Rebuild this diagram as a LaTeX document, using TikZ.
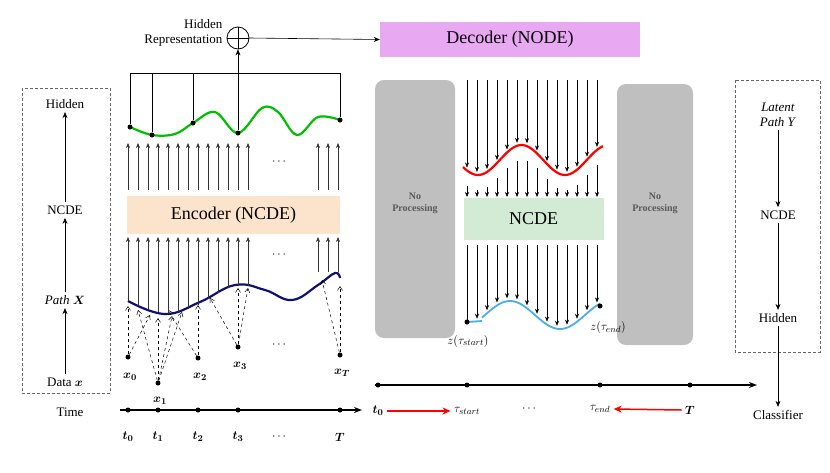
\documentclass[tikz,border=0pt]{standalone}
\usepackage{amsmath,amssymb,bm}
\usepackage{fontspec}
\setmainfont{Liberation Serif}
\usetikzlibrary{arrows.meta}
\definecolor{peach}{HTML}{FCE4CC}
\definecolor{violet}{HTML}{E8A8F2}
\definecolor{mint}{HTML}{D3EBD5}
\definecolor{navy}{HTML}{101070}
\definecolor{sky}{HTML}{4AAEEA}
\begin{document}
\begin{tikzpicture}[x=1pt,y=-1pt,
  arr/.style={-{Stealth[length=6pt,width=5pt]},line width=0.6pt},
  tarr/.style={-{Stealth[length=5pt,width=4pt]},line width=0.5pt},
  dot/.style={circle,fill,inner sep=0pt,minimum size=5pt},
  lbl/.style={font=\fontsize{13}{15}\selectfont,align=center},
  gbox/.style={fill=black!25,rounded corners=9pt,draw=none},
  np/.style={font=\bfseries\fontsize{10}{12}\selectfont,text=black!65,align=center}]
\useasboundingbox (0,0) rectangle (830,472);
% left dashed box
\draw[densely dashed,black!60] (22,88) rectangle (110,393);
\node[lbl] (lh) at (65,104) {Hidden};
\node[lbl] (ln) at (65,210) {NCDE};
\node[lbl] (lp) at (65,300) {\textit{Path} $\bm{X}$};
\node[lbl] (ld) at (65,382) {Data $\bm{x}$};
\draw[arr] (ld) -- (lp);
\draw[arr] (lp) -- (ln);
\draw[arr] (ln) -- (lh);
% time axis
\node[lbl] (time) at (70,412) {Time};
\coordinate (ta) at (120,410); \coordinate (tb) at (362,410);
\draw[line width=1.8pt,-{Stealth[length=8pt]}] (ta) -- (tb);
\foreach \x/\l in {128/t_0,158/t_1,198/t_2,238/t_3,340/T}{
  \node[dot] at (\x,410) {};
  \node[lbl] at (\x,437) {$\bm{\l}$};}
\node[lbl] at (280,437) {$\cdots$};
% data points
\foreach \n/\x/\y/\ly in {0/128/357/377,1/158/383/401,2/198/358/377,3/238/347/366,T/340/355/373}{
  \node[dot] (x\n) at (\x,\y) {};
  \node[lbl] at (\x+2,\ly) {$\bm{x_{\n}}$};}
\node[lbl] at (280,345) {$\cdots$};
% navy curve
\draw[navy,line width=2.2pt] plot[smooth,tension=0.7] coordinates {(128,301) (165,314) (200,302) (235,285) (265,290) (292,300) (318,285) (335,273) (340,278)};
% dashed arrows from data
\tikzset{da/.style={dashed,line width=0.5pt,-{Straight Barb[length=4pt,width=5pt]}}}
\foreach \s/\tx/\ty in {0/128/306,0/150/315,1/138/310,1/158/318,1/172/316,1/182/312,2/168/310,2/198/305,3/210/298,3/238/288,3/248/288,T/322/280,T/340/286}{
  \draw[da] (x\s) -- (\tx,\ty);}
% lower up arrows
\foreach \x/\y in {128/301,138/305,148/309,158/312,168/314,178/312,188/309,198/305,208/299,218/293,228/288,238/286,248/286}{
  \draw[tarr,black!80] (\x,\y) -- (\x,237);}
\foreach \x/\y in {318/285,328/276,338/274}{\draw[tarr,black!80] (\x,272) -- (\x,237);}
\node[lbl] at (280,255) {$\cdots$};
% encoder
\node[fill=peach,minimum width=213pt,minimum height=38pt,inner sep=0pt,font=\fontsize{18}{20}\selectfont] (enc) at (233.5,215) {Encoder (NCDE)};
% upper arrows
\foreach \x in {128,138,...,248}{\draw[tarr,black!80] (\x,190) -- (\x,143);}
\foreach \x in {318,328,338}{\draw[tarr,black!80] (\x,190) -- (\x,143);}
\node[lbl] at (280,162) {$\cdots$};
% green curve
\draw[green!75!black,line width=2.2pt] plot[smooth,tension=0.6] coordinates {(130,127) (152,135) (175,134) (193,123) (215,112) (238,133) (262,108) (278,112) (297,135) (318,117) (340,120)};
\foreach \n/\x/\y in {a/130/127,b/152/135,c/193/123,d/238/133,e/340/120}{\node[dot] (g\n) at (\x,\y) {};}
\coordinate (ha) at (130,73); \coordinate (he) at (340,73);
\draw[line width=0.7pt] (ga) -- (ha) -- (he) -- (ge);
\draw[line width=0.7pt] (gb) -- (152,73);
\draw[line width=0.7pt] (gc) -- (193,73);
% circle plus
\node[circle,draw,line width=0.8pt,minimum size=22pt,inner sep=0pt] (op) at (238,38) {};
\draw[line width=0.8pt] (op.north) -- (op.south) (op.west) -- (op.east);
\draw[arr] (gd) -- (op.south);
\node[lbl,align=right,anchor=east] (hr) at (226,33) {Hidden\\Representation};
% decoder
\node[fill=violet,minimum width=260pt,minimum height=35pt,inner sep=0pt,font=\fontsize{18}{20}\selectfont] (dec) at (510,39.5) {Decoder (NODE)};
\draw[arr] (op.east) -- (dec.west);
% gray boxes
\node[gbox,minimum width=80pt,minimum height=258pt] (gl) at (415,209) {};
\node[np] at (415,203) {No\\Processing};
\node[gbox,minimum width=76pt,minimum height=261pt] (gr) at (655,214.5) {};
\node[np] at (655,203) {No\\Processing};
% middle arrows to red curve
\foreach \x in {467,477,...,600}{
  \pgfmathsetmacro\yr{160+15*cos((\x-478)*4.1379)-3}
  \draw[tarr] (\x,80) -- (\x,\yr);
  \draw[tarr] (\x,\yr+18) -- (\x,197);
  \pgfmathsetmacro\yb{315-14*cos((\x-510)*3.6)-3}
  \draw[tarr] (\x,245) -- (\x,\yb);}
\draw[red,line width=2.2pt,domain=463:603,samples=60] plot (\x,{160+15*cos((\x-478)*4.1379)});
\node[fill=mint,minimum width=140pt,minimum height=42pt,inner sep=0pt,font=\fontsize{18}{20}\selectfont] (ncde) at (533.5,219) {NCDE};
\draw[sky,line width=1.8pt] (467,322) -- (482,321);
\draw[sky,line width=1.8pt,domain=482:600,samples=60] plot (\x,{315-14*cos((\x-510)*3.6)});
\node[dot] (zs) at (467,322) {};
\node[dot] (ze) at (600,306) {};
\node[lbl] at (468,341) {$z(\tau_{start})$};
\node[lbl] at (608,327) {$z(\tau_{end})$};
% bottom axis
\coordinate (ba) at (375,385); \coordinate (bb) at (757,385);
\draw[line width=1.8pt,-{Stealth[length=8pt]}] (ba) -- (bb);
\foreach \x in {378,467,600,690}{\node[dot] at (\x,385) {};}
\node[lbl] (b0) at (378,411) {$\bm{t_0}$};
\node[lbl] (bs) at (467,411) {$\tau_{start}$};
\node[lbl] at (530,409) {$\cdots$};
\node[lbl] (be) at (600,409) {$\tau_{end}$};
\node[lbl] (bT) at (690,410) {$\bm{T}$};
\draw[red,line width=1.5pt,-{Stealth[length=8pt,width=7pt]}] (b0.east) -- (bs.west);
\draw[red,line width=1.5pt,-{Stealth[length=8pt,width=7pt]}] (bT.west) -- (be.east);
% right dashed box
\draw[densely dashed,black!60] (735,80) rectangle (820,352);
\node[lbl] (rl) at (778,115) {\textit{Latent}\\\textit{Path Y}};
\node[lbl] (rn) at (778,215) {NCDE};
\node[lbl] (rh) at (778,318) {Hidden};
\node[lbl] (rc) at (778,415) {Classifier};
\draw[arr] (rl) -- (rn);
\draw[arr] (rn) -- (rh);
\draw[arr] (rh) -- (rc);
\end{tikzpicture}
\end{document}
